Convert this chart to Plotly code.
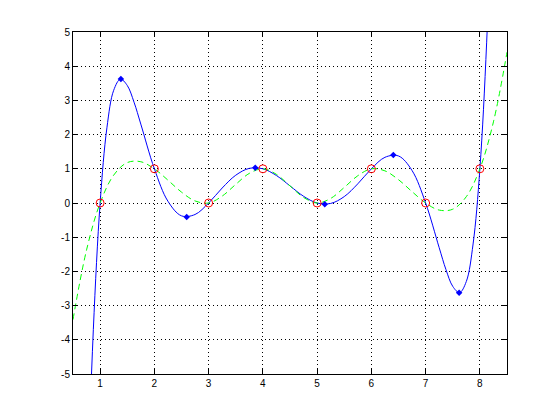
import plotly.graph_objects as go

# data points
x_pts = [1, 2, 3, 4, 5, 6, 7, 8]
y_pts = [0, 1, 0, 1, 0, 1, 0, 1]

# blue curve (degree-7 interpolant), values read/
x_blue = [0.5, 0.625, 0.75, 0.875, 1.0, 1.125, 1.25, 1.375, 1.5, 1.625, 1.75, 2.0, 2.25, 2.5,
          2.75, 3.0, 3.25, 3.5, 3.75, 4.0, 4.25, 4.5, 4.75, 5.0, 5.25, 5.5, 5.75, 6.0,
          6.25, 6.5, 6.75, 7.0, 7.25, 7.375, 7.5, 7.625, 7.75, 7.875, 8.0, 8.125, 8.25, 8.375, 8.5]
y_blue = [-29.25, -17.68, -9.40, -3.703, 0.0, 2.198, 3.296, 3.622, 3.4375, 2.948, 2.307, 1.0, 0.051, -0.375,
          -0.336, 0.0, 0.439, 0.8125, 1.0125, 1.0, 0.803, 0.5, 0.197, 0.0, -0.0125, 0.1875, 0.561, 1.0,
          1.336, 1.375, 0.949, 0.0, -1.307, -1.948, -2.4375, -2.622, -2.296, -1.198, 1.0, 4.703, 10.40, 18.68, 30.25]

# blue extrema markers
x_ext = [1.383, 2.596, 3.859, 5.141, 6.404, 7.617]
y_ext = [3.623, -0.407, 1.033, -0.033, 1.407, -2.623]

# green dashed curve (cubic spline), values read/
x_green = [0.5, 0.75, 1.0, 1.25, 1.5, 1.75, 2.0, 2.25, 2.5, 2.75, 3.0, 3.25, 3.5, 3.75, 4.0,
           4.25, 4.5, 4.75, 5.0, 5.25, 5.5, 5.75, 6.0, 6.25, 6.5, 6.75, 7.0, 7.25, 7.5, 7.75, 8.0,
           8.25, 8.5]
y_green = [-3.409, -1.372, 0.0, 0.815, 1.182, 1.207, 1.0, 0.668, 0.318, 0.060, 0.0, 0.202, 0.545, 0.866, 1.0,
           0.838, 0.5, 0.162, 0.0, 0.134, 0.455, 0.798, 1.0, 0.940, 0.682, 0.332, 0.0, -0.207, -0.182, 0.185, 1.0,
           2.372, 4.409]

x_ticks = [1, 2, 3, 4, 5, 6, 7, 8]
y_ticks = [-5, -4, -3, -2, -1, 0, 1, 2, 3, 4, 5]

fig = go.Figure()
fig.add_trace(go.Scatter(x=x_blue, y=y_blue, mode="lines",
                         line=dict(color="#0000ff", width=1, shape="spline", smoothing=1.0),
                         hoverinfo="skip"))
fig.add_trace(go.Scatter(x=x_green, y=y_green, mode="lines",
                         line=dict(color="#00ff00", width=1, dash="6px,4px", shape="spline", smoothing=1.0),
                         hoverinfo="skip"))
fig.add_trace(go.Scatter(x=x_pts, y=y_pts, mode="markers",
                         marker=dict(symbol="circle-open", color="#ff0000", size=8, line=dict(width=1))))
fig.add_trace(go.Scatter(x=x_ext, y=y_ext, mode="markers",
                         marker=dict(symbol="diamond", color="#0000ff", size=5)))

axis_common = dict(
    showline=True, linecolor="black", linewidth=1, mirror="allticks",
    ticks="inside", ticklen=5, tickcolor="black", tickwidth=1,
    showgrid=True, gridcolor="black", gridwidth=1, griddash="1px,3px",
    zeroline=False, tickfont=dict(family="Liberation Sans, Arial, sans-serif", size=10, color="black"),
)
fig.update_xaxes(range=[0.5, 8.5], tickvals=x_ticks, ticktext=[str(v) for v in x_ticks], **axis_common)
fig.update_yaxes(range=[-5, 5], tickvals=y_ticks, ticktext=[str(v) for v in y_ticks], **axis_common)
# page body has an 8px margin, so the figure is offset by (8, 8) in the window
fig.update_layout(
    width=560, height=420, showlegend=False,
    margin=dict(l=65, r=61, t=24, b=54),
    paper_bgcolor="white", plot_bgcolor="white",
)
fig.write_html("out.html")
